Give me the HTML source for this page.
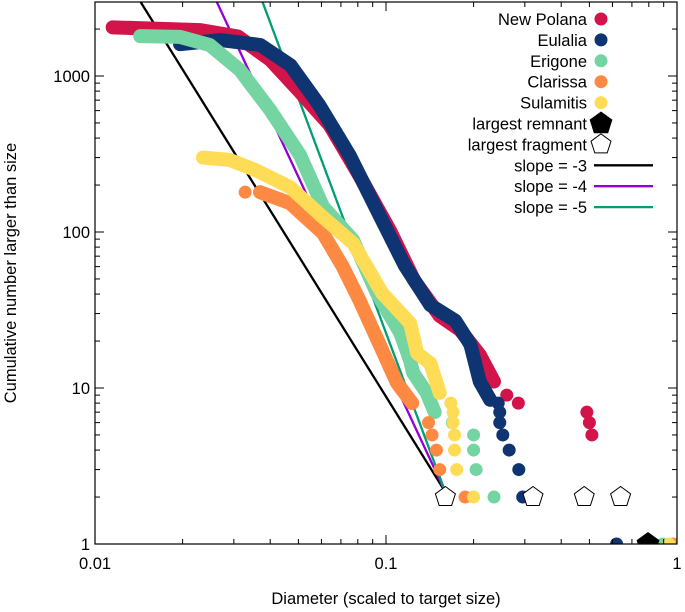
<!DOCTYPE html>
<html><head><meta charset="utf-8"><style>
body{margin:0;background:#fff}
svg{display:block;font-family:"Liberation Sans",sans-serif}
</style></head><body>
<svg id="chart" width="685" height="612" viewBox="0 0 685 612" xmlns="http://www.w3.org/2000/svg">
<defs><clipPath id="clip"><rect x="95" y="2" width="582" height="542"/></clipPath></defs>
<g id="marks" clip-path="url(#clip)"></g>
<rect x="95" y="2" width="582" height="542" fill="none" stroke="#000" stroke-width="1.2"/>
<g id="axes"></g>
<g id="legend"></g>
<text x="386" y="604" text-anchor="middle" font-size="16.5">Diameter (scaled to target size)</text>
<text transform="translate(16,273) rotate(-90)" text-anchor="middle" font-size="16.5">Cumulative number larger than size</text>
</svg>
<script>
// ---- data ----
const seriesNames = ["New Polana","Eulalia","Erigone","Clarissa","Sulamitis"];
const seriesColors = ["#d2144b","#0e3471","#74d4a2","#fd8943","#ffdc55"];
const polanaDense = [[0.0115,2050],[0.0229,1970],[0.031,1790],[0.04,1270],[0.05,810],[0.064,485],[0.081,230],[0.103,103],[0.125,49],[0.153,29],[0.18,23.5],[0.21,16.3],[0.235,11]];
const polanaTail = [[0.26,9],[0.285,8],[0.49,7],[0.5,6],[0.51,5]];
const eulaliaDense = [[0.0196,1600],[0.027,1700],[0.037,1580],[0.047,1170],[0.059,650],[0.075,310],[0.095,128],[0.116,61],[0.142,34],[0.173,27],[0.195,19],[0.21,11],[0.228,8.4]];
const eulaliaTail = [[0.243,8],[0.246,7],[0.246,6],[0.252,5],[0.265,4],[0.286,3],[0.295,2],[0.62,1]];
const erigoneDense = [[0.0143,1800],[0.0196,1780],[0.0248,1580],[0.0315,1090],[0.040,605],[0.0506,312],[0.0608,145],[0.077,89],[0.093,40.6],[0.112,22.5],[0.121,15],[0.124,12.5],[0.138,9.3],[0.147,7]];
const erigoneTail = [[0.169,6],[0.2,5],[0.2,4],[0.204,3],[0.235,2],[0.895,1]];
const clarissaDense = [[0.0369,180],[0.0468,153],[0.0608,98],[0.071,60],[0.081,36.6],[0.097,17.5],[0.109,10.8],[0.123,8]];
const clarissaTail = [[0.0328,180],[0.14,6],[0.144,5],[0.149,4],[0.153,3],[0.187,2],[0.97,1]];
const sulamitisDense = [[0.0235,300],[0.029,290],[0.0355,250],[0.0468,194],[0.0608,124],[0.077,85],[0.097,40.6],[0.121,26],[0.128,16.7],[0.142,14.4],[0.153,9.3]];
const sulamitisTail = [[0.167,8],[0.17,7],[0.17,6],[0.172,5],[0.172,4],[0.175,3],[0.2,2],[0.94,1]];
const largestRemnant = [[0.795,1]];
const largestFragment = [[0.16,2],[0.32,2],[0.48,2],[0.64,2]];
const slopes = [-3,-4,-5];
const slopeColors = ["#000000","#9400d3","#009e73"];
const slopeAnchor = [0.16,2.15];
const xTickLabels = ["0.01","0.1","1"];
const xTickValues = [0.01,0.1,1];
const yTickLabels = ["1","10","100","1000"];
const yTickValues = [1,10,100,1000];

// ---- axes ----
const X0=95,X1=677,Y0=544,YDEC=156;
const xs = d => X0 + (Math.log10(d)+2)*(X1-X0)/2;
const ys = n => Y0 - Math.log10(n)*YDEC;
const NS="http://www.w3.org/2000/svg";
function mk(tag,attrs,parent){const e=document.createElementNS(NS,tag);for(const k in attrs)e.setAttribute(k,attrs[k]);parent.appendChild(e);return e;}
const marks=document.getElementById('marks'), axes=document.getElementById('axes'), legend=document.getElementById('legend');

for(let dec=-2;dec<0;dec++){for(let m=1;m<10;m++){const v=m*Math.pow(10,dec);const x=xs(v);const L=m===1?9:5;
 const t1=mk('line',{x1:x,x2:x,y1:Y0,y2:Y0-L,stroke:'#000'},axes);
 
 
 const t2=mk('line',{x1:x,x2:x,y1:2,y2:2+L,stroke:'#000'},axes);
 
 }}
for(let dec=0;dec<4;dec++){for(let m=1;m<10;m++){const v=m*Math.pow(10,dec);const y=ys(v);if(y<2)continue;const L=m===1?9:5;
 const t1=mk('line',{x1:X0,x2:X0+L,y1:y,y2:y,stroke:'#000'},axes);
 
 
 const t2=mk('line',{x1:X1,x2:X1-L,y1:y,y2:y,stroke:'#000'},axes);
 
 }}
xTickLabels.forEach((l,i)=>{const t=mk('text',{x:xs(xTickValues[i]),y:Y0+25,'text-anchor':'middle','font-size':16.5},axes);t.textContent=l;
 
 });
yTickLabels.forEach((l,i)=>{const t=mk('text',{x:X0-5,y:ys(yTickValues[i])+6,'text-anchor':'end','font-size':16.5},axes);t.textContent=l;
 
 });

slopes.forEach((s,i)=>{const [d0,n0]=slopeAnchor;const dA=0.005;const nA=n0*Math.pow(dA/d0,s);
 const ln=mk('line',{x1:xs(dA),y1:ys(nA),x2:xs(d0),y2:ys(n0),stroke:slopeColors[i],'stroke-width':2.3},marks);
 
 });

const dense=[polanaDense,eulaliaDense,erigoneDense,clarissaDense,sulamitisDense];
const tails=[polanaTail,eulaliaTail,erigoneTail,clarissaTail,sulamitisTail];
const R=6.5;
dense.forEach((pts,i)=>{const g=mk('g',{},marks);
 
 
 const p=mk('polyline',{points:pts.map(q=>xs(q[0])+','+ys(q[1])).join(' '),fill:'none',stroke:seriesColors[i],'stroke-width':2*R+1,'stroke-linecap':'round','stroke-linejoin':'round'},g);
 
 
 pts.concat(tails[i]).forEach(q=>{const c=mk('circle',{cx:xs(q[0]),cy:ys(q[1]),r:R,fill:seriesColors[i]},g);
  
  });});

function pent(cx,cy,r){let s=[];for(let k=0;k<5;k++){const a=-Math.PI/2+k*2*Math.PI/5;s.push((cx+r*Math.cos(a)).toFixed(1)+','+(cy+r*Math.sin(a)).toFixed(1));}return s.join(' ');}
largestRemnant.forEach(q=>{const p=mk('polygon',{points:pent(xs(q[0]),ys(q[1]),12),fill:'#000'},marks);
 
 });
largestFragment.forEach(q=>{const p=mk('polygon',{points:pent(xs(q[0]),ys(q[1]),10.5),fill:'#fff',stroke:'#000','stroke-width':1},marks);
 
 });

const legLabels=seriesNames.concat(["largest remnant","largest fragment","slope = -3","slope = -4","slope = -5"]);
legLabels.forEach((l,i)=>{const y=19+i*20.9;
 const t=mk('text',{x:587,y:y+6,'text-anchor':'end','font-size':16.5},legend);t.textContent=l;
 
 
 let m;
 if(i<5){m=mk('circle',{cx:601,cy:y,r:R,fill:seriesColors[i]},legend);}
 else if(i===5){m=mk('polygon',{points:pent(601,y,12),fill:'#000'},legend);}
 else if(i===6){m=mk('polygon',{points:pent(601,y,10.5),fill:'#fff',stroke:'#000'},legend);}
 else{m=mk('line',{x1:594,x2:653,y1:y,y2:y,stroke:slopeColors[i-7],'stroke-width':2.3},legend);}
 
 });
</script>
</body></html>
